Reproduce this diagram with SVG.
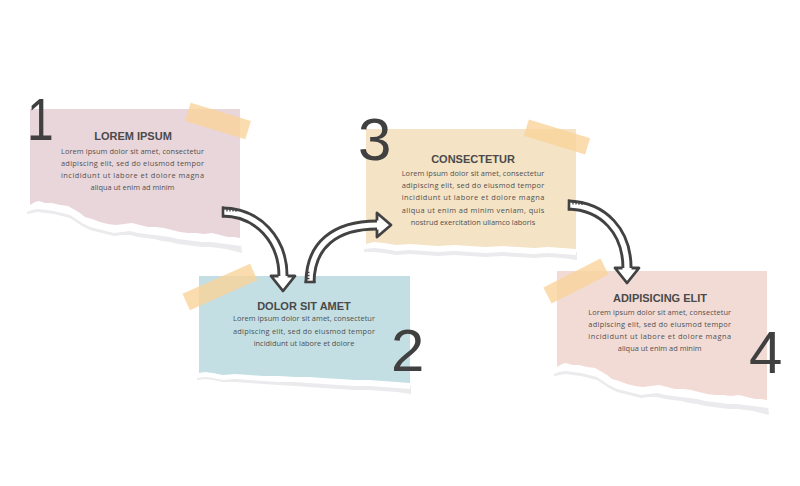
<svg xmlns="http://www.w3.org/2000/svg" xmlns:xlink="http://www.w3.org/1999/xlink" width="800" height="486" viewBox="0 0 800 486">
<defs>
<style>
.title{font-family:"Liberation Sans",Arial,sans-serif;font-weight:bold;font-size:11px;fill:#4a4a4a;text-anchor:middle}
.body{font-family:"Open Sans","Liberation Sans",sans-serif;font-size:7.4px;fill:#505050;text-anchor:middle}
.num{font-family:"Liberation Sans",Arial,sans-serif;font-size:60px;fill:#404040}
.tape{fill:#f9d39a;opacity:.8}
.shadow{fill:#ebebee}
.white{fill:#ffffff}
.outer{fill:none;stroke:#424242;stroke-width:11}
.inner{fill:none;stroke:#ffffff;stroke-width:5.2}
.head{fill:#ffffff;stroke:#424242;stroke-width:2.8;stroke-linejoin:round}
.cap{stroke:#424242;stroke-width:2.6;fill:none}
.tick{stroke:#424242;stroke-width:1.3;fill:none}
</style>
<path id="paperA" d="M0,0 H210 V129 L204,128 198,128 190,126 182,124 174,125 166,124 158,124 150,123 142,121 134,119 126,118 118,118 110,116 102,114 94,115 86,116 78,115 70,113 62,110 55,108 50,104 45,101 38,97 30,96 22,94 15,94 9,92 5,93 0,96 Z"/>
<path id="whiteA" d="M-3,97 L0,96 5,93 9,92 15,94 22,94 30,96 38,97 45,101 50,104 55,108 62,110 70,113 78,115 86,116 94,115 102,114 110,116 118,118 126,118 134,119 142,121 150,123 158,124 166,124 174,125 182,124 190,126 198,128 204,128 210,129 L211,137 204,136 196,135 188,134 180,133 172,133 164,132 156,131 148,130 140,128 132,127 124,126 116,125 108,124 100,122 92,123 84,124 76,122 68,120 60,118 52,114 46,110 40,106 32,104 24,102 16,101 8,100 2,101 -3,103 Z"/>
<path id="shadowA" d="M-3,101 L2,99 8,98 16,99 24,100 32,102 40,104 46,108 52,112 60,116 68,118 76,120 84,122 92,121 100,120 108,122 116,123 124,124 132,125 140,126 148,128 156,129 164,130 172,131 180,131 188,132 196,133 204,134 211,135 L212,144 204,142 196,140 188,139 180,138 172,138 164,137 156,136 148,135 140,133 132,132 124,130 116,129 108,128 100,126 92,126 84,127 76,125 68,123 60,121 52,117 46,113 40,109 32,107 24,105 16,104 8,103 -3,105 Z"/>
<path id="paperB" d="M0,0 H211 V107 L198,106 184,105 170,104 156,104 140,103 124,102 110,101 96,101 80,100 64,100 50,99 36,98 24,99 14,97 6,96 0,97 Z"/>
<path id="whiteB" d="M-2,98 L0,97 6,96 14,97 24,99 36,98 50,99 64,100 80,100 96,101 110,101 124,102 140,103 156,104 170,104 184,105 198,106 211,107 L211,113 198,112 184,111 170,110 156,110 140,109 124,108 110,107 96,106 80,106 64,105 50,104 36,103 24,104 14,102 6,101 -2,102 Z"/>
<path id="shadowB" d="M-2,100 L6,99 14,100 24,102 36,101 50,102 64,103 80,103 96,104 110,104 124,105 140,106 156,107 170,107 184,108 198,109 212,110 L212,118 198,116 184,115 170,114 156,114 140,113 124,112 110,111 96,110 80,109 64,108 50,107 36,106 24,106 14,104 6,103 -2,104 Z"/>
<path id="paperC" d="M0,0 H210 V120 L196,119 182,118 168,119 152,118 136,117 120,118 104,117 88,116 72,117 58,116 44,115 30,116 18,114 8,113 0,115 Z"/>
<path id="whiteC" d="M-2,116 L0,115 8,113 18,114 30,116 44,115 58,116 72,117 88,116 104,117 120,118 136,117 152,118 168,119 182,118 196,119 210,120 L210,126 196,125 182,124 168,125 152,124 136,123 120,124 104,123 88,122 72,123 58,122 44,121 30,122 18,120 8,119 -2,120 Z"/>
<path id="shadowC" d="M-2,118 L8,116 18,117 30,119 44,118 58,119 72,120 88,119 104,120 120,121 136,120 152,121 168,122 182,121 196,122 211,123 L211,131 196,129 182,128 168,129 152,128 136,127 120,128 104,127 88,126 72,127 58,126 44,125 30,126 18,124 8,123 -2,123 Z"/>
</defs>
<rect width="800" height="486" fill="#ffffff"/>

<g id="step1">
<g transform="translate(30,109)">
<use xlink:href="#shadowA" class="shadow"/>
<use xlink:href="#whiteA" class="white"/>
<use xlink:href="#paperA" fill="#e9d6da"/>
</g>
<rect class="tape" x="-31.5" y="-9.5" width="63" height="19" transform="translate(218,121) rotate(17)"/>
<text class="title" x="133" y="140">LOREM IPSUM</text>
<text class="body" x="132.5" y="154" textLength="143" lengthAdjust="spacing">Lorem ipsum dolor sit amet, consectetur</text>
<text class="body" x="132.5" y="166" textLength="143" lengthAdjust="spacing">adipiscing elit, sed do eiusmod tempor</text>
<text class="body" x="132.5" y="178" textLength="143" lengthAdjust="spacing">incididunt ut labore et dolore magna</text>
<text class="body" x="132.5" y="190">aliqua ut enim ad minim</text>
<text class="num" transform="translate(27,140) scale(0.8,1)">1</text>
</g>

<g id="step2">
<g transform="translate(199,276)">
<use xlink:href="#shadowB" class="shadow"/>
<use xlink:href="#whiteB" class="white"/>
<use xlink:href="#paperB" fill="#c3dfe4"/>
</g>
<rect class="tape" x="-37" y="-9" width="74" height="18" transform="translate(220,287) rotate(-24)"/>
<text class="title" x="304" y="309.5">DOLOR SIT AMET</text>
<text class="body" x="304" y="321" textLength="142" lengthAdjust="spacing">Lorem ipsum dolor sit amet, consectetur</text>
<text class="body" x="304" y="333.5" textLength="142" lengthAdjust="spacing">adipiscing elit, sed do eiusmod tempor</text>
<text class="body" x="304" y="346">incididunt ut labore et dolore</text>
<text class="num" x="391" y="371">2</text>
</g>

<g id="step3">
<g transform="translate(366,129)">
<use xlink:href="#shadowC" class="shadow"/>
<use xlink:href="#whiteC" class="white"/>
<use xlink:href="#paperC" fill="#f4e3c5"/>
</g>
<rect class="tape" x="-32" y="-8.5" width="64" height="17" transform="translate(557,137) rotate(17)"/>
<text class="title" x="473" y="162.5">CONSECTETUR</text>
<text class="body" x="473" y="175.5" textLength="142.6" lengthAdjust="spacing">Lorem ipsum dolor sit amet, consectetur</text>
<text class="body" x="473" y="188" textLength="142.6" lengthAdjust="spacing">adipiscing elit, sed do eiusmod tempor</text>
<text class="body" x="473" y="200.3" textLength="142.6" lengthAdjust="spacing">incididunt ut labore et dolore magna</text>
<text class="body" x="473" y="212.5" textLength="142.6" lengthAdjust="spacing">aliqua ut enim ad minim veniam, quis</text>
<text class="body" x="473" y="224.8">nostrud exercitation ullamco laboris</text>
<text class="num" x="358" y="160">3</text>
</g>

<g id="step4">
<g transform="translate(557,271)">
<use xlink:href="#shadowA" class="shadow"/>
<use xlink:href="#whiteA" class="white"/>
<use xlink:href="#paperA" fill="#f3dbd5"/>
</g>
<rect class="tape" x="-32" y="-9" width="64" height="18" transform="translate(576,281) rotate(-27)"/>
<text class="title" x="660" y="301.7">ADIPISICING ELIT</text>
<text class="body" x="659.7" y="315" textLength="142.7" lengthAdjust="spacing">Lorem ipsum dolor sit amet, consectetur</text>
<text class="body" x="659.7" y="327" textLength="142.7" lengthAdjust="spacing">adipiscing elit, sed do eiusmod tempor</text>
<text class="body" x="659.7" y="339" textLength="142.7" lengthAdjust="spacing">incididunt ut labore et dolore magna</text>
<text class="body" x="659.7" y="351">aliqua ut enim ad minim</text>
<text class="num" x="749" y="373">4</text>
</g>

<g id="connectors">
<g id="arrow1-2">
<path class="outer" d="M222,212 C258,212 283,240 283,276"/>
<path class="inner" d="M222,212 C258,212 283,240 283,276"/>
<path class="cap" d="M223,206.5 V217.5"/>
<path class="tick" d="M227,209 V211.5 M230,209 V211.5 M233,209 V211.5 M236,209.3 V211.8"/>
<path class="head" d="M278.5,276 L271,276 L283,291 L295,276 L287.5,276"/>
</g>
<g id="arrow2-3">
<path class="outer" d="M310,283 C310,245 335,225 377,225"/>
<path class="inner" d="M310,283 C310,245 335,225 377,225"/>
<path class="cap" d="M304.5,282 H315.5"/>
<path class="tick" d="M307,278.5 H309.5 M307,275.5 H309.5 M307,272.5 H309.5"/>
<path class="head" d="M377,220.5 L377,213 L391,225 L377,237 L377,229.5"/>
</g>
<g id="arrow3-4">
<path class="outer" d="M568,205 C604,206 627,232 627,268"/>
<path class="inner" d="M568,205 C604,206 627,232 627,268"/>
<path class="cap" d="M569,199.5 V210.5"/>
<path class="tick" d="M573,202 V204.5 M576,202 V204.5 M579,202.2 V204.7 M582,202.5 V205"/>
<path class="head" d="M622.5,268 L615,268 L627,283 L639,268 L631.5,268"/>
</g>
</g>
</svg>
